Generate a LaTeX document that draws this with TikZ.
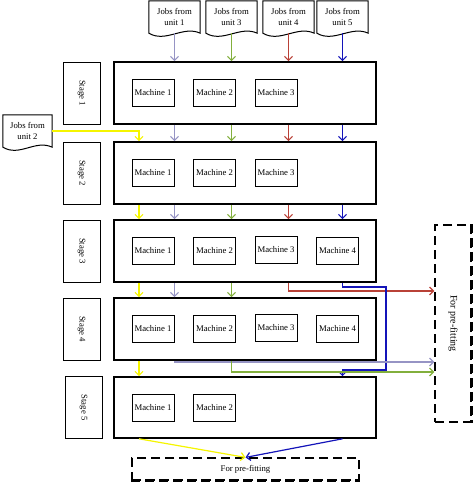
\documentclass[tikz,border=0pt]{standalone}
\usepackage{fontspec}
\setmainfont{Liberation Serif}
\usepackage{tikz}
\usetikzlibrary{calc, arrows.meta}
\definecolor{unitgrey}{RGB}{150,148,196}
\definecolor{unitgreen}{RGB}{130,175,60}
\definecolor{unitred}{RGB}{185,65,55}
\definecolor{unitblue}{RGB}{20,20,185}
\definecolor{unityellow}{RGB}{245,245,0}
\newcommand{\figfont}{\fontsize{8.7}{10.5}\selectfont}
\tikzset{machine/.style = {rectangle,draw,line width=1pt,minimum width=42pt,minimum height=27pt,inner sep=0pt,font=\figfont},
         stagebox/.style = {rectangle,draw,line width=1.6pt,minimum width=262pt,minimum height=62pt},
         stagelab/.style = {rectangle,draw,line width=1pt,rotate=-90,minimum width=62pt,minimum height=37pt,inner sep=0pt,font=\figfont},
         jobdoc/.style = {minimum width=51pt,minimum height=32pt,inner sep=0pt,align=center,font=\figfont},
         target/.style = {rectangle,draw,dashed,dash pattern=on 9pt off 5pt,line width=1.2pt,inner sep=0pt,font=\figfont},
         thickdash/.style = {line width=2.8pt,dash pattern=on 9pt off 5pt},
         flow/.style = {-{Straight Barb[length=4pt,width=8pt]},line width=1.2pt}}
\newcommand{\docoutline}[1]{\draw[line width=1pt] (#1.south west) .. controls +(17,10) and +(-17,-8) .. (#1.south east) -- (#1.north east) -- (#1.north west) -- cycle;}

\begin{document}
\begin{tikzpicture}[x=1pt, y=-1pt]
    \useasboundingbox (0,0) rectangle (474,482);

    % jobs coming in
    \node[jobdoc] (u1) at (174.5, 17) {Jobs from\\unit 1};
    \node[jobdoc] (u3) at (231.5, 17) {Jobs from\\unit 3};
    \node[jobdoc] (u4) at (288.5, 17) {Jobs from\\unit 4};
    \node[jobdoc] (u5) at (342.5, 17) {Jobs from\\unit 5};
    \node[jobdoc, minimum width=49pt] (u2) at (27.5, 131) {Jobs from\\unit 2};
    \docoutline{u1} \docoutline{u3} \docoutline{u4} \docoutline{u5} \docoutline{u2}

    % stages
    \node[stagebox] (s1) at (245,  93) {};
    \node[stagebox] (s2) at (245, 173) {};
    \node[stagebox] (s3) at (245, 251) {};
    \node[stagebox] (s4) at (245, 329) {};
    \node[stagebox, minimum height=61pt] (s5) at (245, 407.5) {};

    \node[stagelab] (l1) at (81.5,  93) {Stage 1};
    \node[stagelab] (l2) at (81.5, 173) {Stage 2};
    \node[stagelab] (l3) at (81.5, 251) {Stage 3};
    \node[stagelab] (l4) at (81.5, 329) {Stage 4};
    \node[stagelab] (l5) at (83.5, 407.5) {Stage 5};

    % machines
    \node[machine] (m11) at (153,    93) {Machine 1};
    \node[machine] (m12) at (214.5,  93) {Machine 2};
    \node[machine] (m13) at (276,    93) {Machine 3};
    \node[machine] (m21) at (153,   173) {Machine 1};
    \node[machine] (m22) at (214.5, 173) {Machine 2};
    \node[machine] (m23) at (276,   173) {Machine 3};
    \node[machine] (m31) at (153,   251) {Machine 1};
    \node[machine] (m32) at (214.5, 251) {Machine 2};
    \node[machine] (m33) at (276, 249.5) {Machine 3};
    \node[machine] (m34) at (337.5, 251) {Machine 4};
    \node[machine] (m41) at (153,   329) {Machine 1};
    \node[machine] (m42) at (214.5, 329) {Machine 2};
    \node[machine] (m43) at (276, 327.5) {Machine 3};
    \node[machine] (m44) at (337.5, 329) {Machine 4};
    \node[machine] (m51) at (153, 407.5) {Machine 1};
    \node[machine] (m52) at (214.5, 407.5) {Machine 2};

    % pre-fitting
    \node[target, minimum width=36pt, minimum height=197pt] (pre) at (453, 323.5) {\fontsize{10}{12}\selectfont\rotatebox{-90}{For pre-fitting}};
    \draw[thickdash] (pre.north east) -- (pre.south east);
    \node[target, minimum width=227pt, minimum height=22pt] (bot) at (245.5, 469) {For pre-fitting};
    \draw[thickdash] (bot.south west) -- (bot.south east);

    \coordinate (ycol) at (139, 0);
    \coordinate (redturn) at (0, 291);
    \coordinate (bluetop) at (386, 287);
    \coordinate (bluebot) at (386, 370);
    \coordinate (greyturn) at (0, 362);
    \coordinate (greenturn) at (0, 372);

    % flows
    \foreach \u/\c in {u1/unitgrey, u3/unitgreen, u4/unitred, u5/unitblue} {
        \draw[flow, \c] (\u.south) -- (\u |- s1.north);
        \draw[flow, \c] (\u |- s1.south) -- (\u |- s2.north);
        \draw[flow, \c] (\u |- s2.south) -- (\u |- s3.north);
    }
    \draw[flow, unityellow] (u2.east) -- (ycol |- u2.east) -- (ycol |- s2.north);
    \draw[flow, unityellow] (ycol |- s2.south) -- (ycol |- s3.north);
    \draw[flow, unityellow] (ycol |- s3.south) -- (ycol |- s4.north);
    \draw[flow, unityellow] (ycol |- s4.south) -- (ycol |- s5.north);
    \draw[flow, unitgrey] (u1 |- s3.south) -- (u1 |- s4.north);
    \draw[flow, unitgreen] (u3 |- s3.south) -- (u3 |- s4.north);
    \draw[flow, unitred] (u4 |- s3.south) -- (u4 |- redturn) -- (pre.west |- redturn);
    \draw[flow, unitblue] (u5 |- s3.south) -- (u5 |- bluetop) -- (bluetop) -- (bluebot) -- (u5 |- bluebot) -- (u5 |- s5.north);
    \draw[flow, unitgrey] (u1 |- s4.south) -- (u1 |- greyturn) -- (pre.west |- greyturn);
    \draw[flow, unitgreen] (u3 |- s4.south) -- (u3 |- greenturn) -- (pre.west |- greenturn);
    \draw[flow, unityellow] (ycol |- s5.south) -- (bot.north);
    \draw[flow, unitblue] (u5 |- s5.south) -- (bot.north);
\end{tikzpicture}
\end{document}
